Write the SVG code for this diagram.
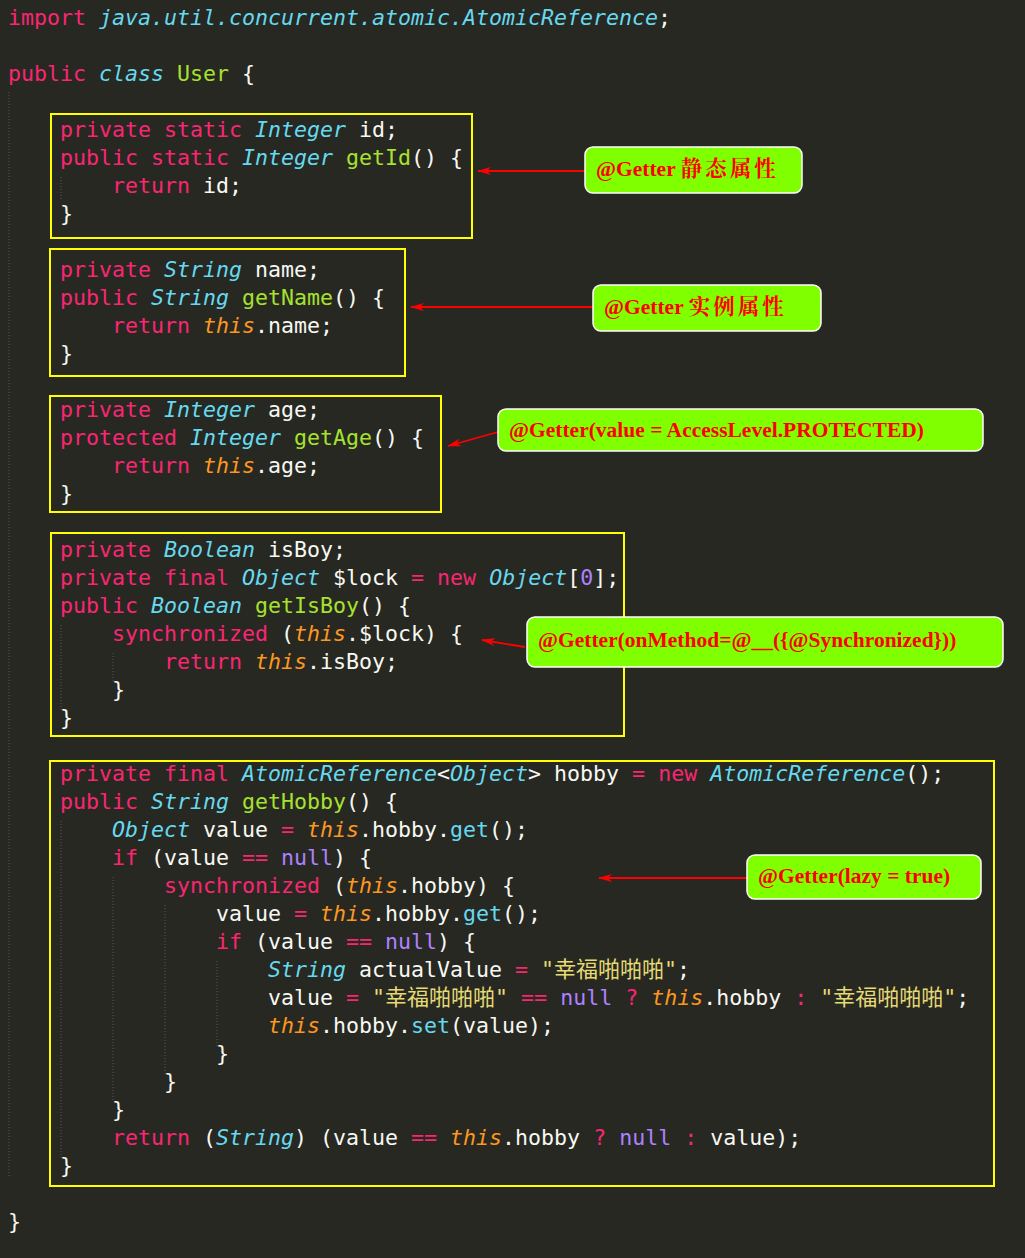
<svg xmlns="http://www.w3.org/2000/svg" width="1025" height="1258" viewBox="0 0 1025 1258">
<style>
.code{font-family:"DejaVu Sans Mono","Liberation Mono",monospace;font-size:21.6px;fill:#f8f8f2;white-space:pre}
.k{fill:#f92672}.t{fill:#66d9ef;font-style:italic}.f{fill:#a6e22e}.th{fill:#fd971f;font-style:italic}.n{fill:#ae81ff}.s{fill:#e6db74}
.cj{font-family:"Noto Sans CJK SC",sans-serif;font-size:22px}
.box{fill:none;stroke:#ffff00;stroke-width:2}
.note rect{fill:#80ff00;stroke:#ffffff;stroke-width:1.5}
.note text{font-family:"Liberation Serif","Noto Serif CJK SC","Noto Sans CJK SC",serif;font-weight:bold;font-size:21.5px;fill:#ff0000}
.arr{stroke:#ff0000;stroke-width:1.8;fill:none;marker-end:url(#ah)}
.g{stroke:#555;stroke-width:1;stroke-dasharray:1 2}
</style>
<defs><marker id="ah" markerWidth="14" markerHeight="8" refX="13" refY="4" orient="auto" markerUnits="userSpaceOnUse"><path d="M0,0L14,4L0,8L4,4Z" fill="#ff0000"/></marker></defs>
<rect width="1025" height="1258" fill="#272822"/>
<g id="guides">
<line class="g" x1="9" y1="92" x2="9" y2="1178"/>
<line class="g" x1="61" y1="177" x2="61" y2="200"/>
<line class="g" x1="61" y1="625" x2="61" y2="710"/>
<line class="g" x1="113" y1="653" x2="113" y2="682"/>
<line class="g" x1="61" y1="821" x2="61" y2="1158"/>
<line class="g" x1="113" y1="877" x2="113" y2="1102"/>
<line class="g" x1="165" y1="905" x2="165" y2="1074"/>
<line class="g" x1="217" y1="961" x2="217" y2="1046"/>
</g>
<g id="code" class="code">
<text x="8" y="25"><tspan class="k">import</tspan> <tspan class="t">java.util.concurrent.atomic.AtomicReference</tspan>;</text>
<text x="8" y="81"><tspan class="k">public</tspan> <tspan class="t">class</tspan> <tspan class="f">User</tspan> {</text>
<text x="60" y="137"><tspan class="k">private static</tspan> <tspan class="t">Integer</tspan> id;</text>
<text x="60" y="165"><tspan class="k">public static</tspan> <tspan class="t">Integer</tspan> <tspan class="f">getId</tspan>() {</text>
<text x="112" y="193"><tspan class="k">return</tspan> id;</text>
<text x="60" y="221">}</text>
<text x="60" y="277"><tspan class="k">private</tspan> <tspan class="t">String</tspan> name;</text>
<text x="60" y="305"><tspan class="k">public</tspan> <tspan class="t">String</tspan> <tspan class="f">getName</tspan>() {</text>
<text x="112" y="333"><tspan class="k">return</tspan> <tspan class="th">this</tspan>.name;</text>
<text x="60" y="361">}</text>
<text x="60" y="417"><tspan class="k">private</tspan> <tspan class="t">Integer</tspan> age;</text>
<text x="60" y="445"><tspan class="k">protected</tspan> <tspan class="t">Integer</tspan> <tspan class="f">getAge</tspan>() {</text>
<text x="112" y="473"><tspan class="k">return</tspan> <tspan class="th">this</tspan>.age;</text>
<text x="60" y="501">}</text>
<text x="60" y="557"><tspan class="k">private</tspan> <tspan class="t">Boolean</tspan> isBoy;</text>
<text x="60" y="585"><tspan class="k">private final</tspan> <tspan class="t">Object</tspan> $lock <tspan class="k">=</tspan> <tspan class="k">new</tspan> <tspan class="t">Object</tspan>[<tspan class="n">0</tspan>];</text>
<text x="60" y="613"><tspan class="k">public</tspan> <tspan class="t">Boolean</tspan> <tspan class="f">getIsBoy</tspan>() {</text>
<text x="112" y="641"><tspan class="k">synchronized</tspan> (<tspan class="th">this</tspan>.$lock) {</text>
<text x="164" y="669"><tspan class="k">return</tspan> <tspan class="th">this</tspan>.isBoy;</text>
<text x="112" y="697">}</text>
<text x="60" y="725">}</text>
<text x="60" y="781"><tspan class="k">private final</tspan> <tspan class="t">AtomicReference</tspan>&lt;<tspan class="t">Object</tspan>&gt; hobby <tspan class="k">=</tspan> <tspan class="k">new</tspan> <tspan class="t">AtomicReference</tspan>();</text>
<text x="60" y="809"><tspan class="k">public</tspan> <tspan class="t">String</tspan> <tspan class="f">getHobby</tspan>() {</text>
<text x="112" y="837"><tspan class="t">Object</tspan> value <tspan class="k">=</tspan> <tspan class="th">this</tspan>.hobby.<tspan class="t" style="font-style:normal">get</tspan>();</text>
<text x="112" y="865"><tspan class="k">if</tspan> (value <tspan class="k">==</tspan> <tspan class="n">null</tspan>) {</text>
<text x="164" y="893"><tspan class="k">synchronized</tspan> (<tspan class="th">this</tspan>.hobby) {</text>
<text x="216" y="921">value <tspan class="k">=</tspan> <tspan class="th">this</tspan>.hobby.<tspan class="t" style="font-style:normal">get</tspan>();</text>
<text x="216" y="949"><tspan class="k">if</tspan> (value <tspan class="k">==</tspan> <tspan class="n">null</tspan>) {</text>
<text x="268" y="977"><tspan class="t">String</tspan> actualValue <tspan class="k">=</tspan> <tspan class="s">"<tspan class="cj">幸福啪啪啪</tspan>"</tspan>;</text>
<text x="268" y="1005">value <tspan class="k">=</tspan> <tspan class="s">"<tspan class="cj">幸福啪啪啪</tspan>"</tspan> <tspan class="k">==</tspan> <tspan class="n">null</tspan> <tspan class="k">?</tspan> <tspan class="th">this</tspan>.hobby <tspan class="k">:</tspan> <tspan class="s">"<tspan class="cj">幸福啪啪啪</tspan>"</tspan>;</text>
<text x="268" y="1033"><tspan class="th">this</tspan>.hobby.<tspan class="t" style="font-style:normal">set</tspan>(value);</text>
<text x="216" y="1061">}</text>
<text x="164" y="1089">}</text>
<text x="112" y="1117">}</text>
<text x="112" y="1145"><tspan class="k">return</tspan> (<tspan class="t">String</tspan>) (value <tspan class="k">==</tspan> <tspan class="th">this</tspan>.hobby <tspan class="k">?</tspan> <tspan class="n">null</tspan> <tspan class="k">:</tspan> value);</text>
<text x="60" y="1173">}</text>
<text x="8" y="1229">}</text>
</g>
<g id="boxes">
<rect id="box1" class="box" x="51" y="114" width="421" height="124"/>
<rect id="box2" class="box" x="50" y="249" width="355" height="127"/>
<rect id="box3" class="box" x="50" y="396" width="391" height="116"/>
<rect id="box4" class="box" x="51" y="533" width="573" height="203"/>
<rect id="box5" class="box" x="50" y="761" width="944" height="425"/>
</g>
<g id="connectors">
<line class="arr" x1="585" y1="171" x2="478" y2="171"/>
<line class="arr" x1="593" y1="307" x2="411" y2="307"/>
<line class="arr" x1="498" y1="432" x2="448" y2="446"/>
<line class="arr" x1="525" y1="647" x2="482" y2="640"/>
<line class="arr" x1="747" y1="878" x2="599" y2="878"/>
</g>
<g id="n1" class="note"><rect x="585" y="147" width="217" height="46" rx="8"/><text x="596" y="176">@Getter <tspan letter-spacing="3">静态属性</tspan></text></g>
<g id="n2" class="note"><rect x="593" y="285" width="228" height="46" rx="8"/><text x="604" y="314">@Getter <tspan letter-spacing="3">实例属性</tspan></text></g>
<g id="n3" class="note"><rect x="498" y="409" width="485" height="42" rx="8"/><text x="509" y="437">@Getter(value = AccessLevel.PROTECTED)</text></g>
<g id="n4" class="note"><rect x="527" y="617" width="476" height="50" rx="8"/><text x="538" y="647">@Getter(onMethod=@__({@Synchronized}))</text></g>
<g id="n5" class="note"><rect x="747" y="855" width="234" height="44" rx="8"/><text x="758" y="883">@Getter(lazy = true)</text></g>
</svg>
